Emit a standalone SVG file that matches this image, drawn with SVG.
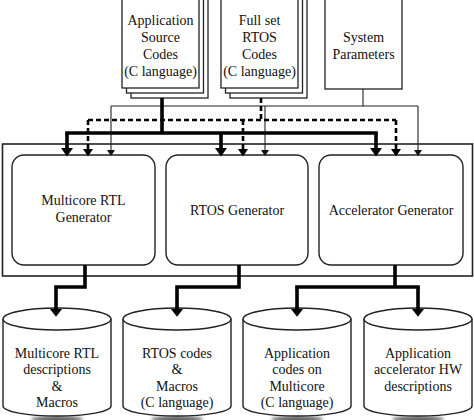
<svg xmlns="http://www.w3.org/2000/svg" width="474" height="420" viewBox="0 0 474 420">
<style>
text{font-family:"Liberation Serif","Times New Roman",serif;font-size:14px;fill:#111;text-anchor:middle}
.doc{fill:#fff;stroke:#222;stroke-width:1.3}
.gen{fill:#fff;stroke:#222;stroke-width:1.4}
.cyl{fill:#fff;stroke:#222;stroke-width:1.4}
.thick{fill:none;stroke:#000;stroke-width:3.6;stroke-linejoin:miter}
.dash{fill:none;stroke:#000;stroke-width:2.6;stroke-dasharray:5,3}
.thin{fill:none;stroke:#222;stroke-width:1.1}
.shadow{fill:#111;opacity:0.7}
</style>
<defs>
<marker id="ahThick" markerUnits="userSpaceOnUse" markerWidth="12" markerHeight="12" refX="0" refY="5" orient="auto" viewBox="0 0 8 10">
<path d="M0,0 L7,5 L0,10 z" fill="#000"/>
</marker>
<marker id="ahOut" markerUnits="userSpaceOnUse" markerWidth="12" markerHeight="12" refX="0" refY="5.5" orient="auto" viewBox="0 0 8 11">
<path d="M0,0 L7,5.5 L0,11 z" fill="#000"/>
</marker>
<marker id="ahDash" markerUnits="userSpaceOnUse" markerWidth="10" markerHeight="10" refX="0" refY="4" orient="auto" viewBox="0 0 7 8">
<path d="M0,0 L6,4 L0,8 z" fill="#000"/>
</marker>
<marker id="ahThin" markerUnits="userSpaceOnUse" markerWidth="8" markerHeight="8" refX="0" refY="3" orient="auto" viewBox="0 0 5 6">
<path d="M0,0 L4.5,3 L0,6 z" fill="#111"/>
</marker>
<filter id="blur" x="-20%" y="-100%" width="140%" height="300%"><feGaussianBlur stdDeviation="1.5"/></filter>
</defs>

<g id="app-source">
<rect class="doc" x="131" y="-2" width="77" height="100"/>
<rect class="doc" x="126.5" y="-2" width="77" height="95"/>
<rect class="doc" x="122" y="-2" width="77" height="90"/>
<text x="160.5" y="25">Application</text>
<text x="160.5" y="42">Source</text>
<text x="160.5" y="59">Codes</text>
<text x="160.5" y="76">(C language)</text>
</g>

<g id="rtos-source">
<rect class="doc" x="230" y="-2" width="77" height="100"/>
<rect class="doc" x="225.5" y="-2" width="77" height="95"/>
<rect class="doc" x="221" y="-2" width="77" height="90"/>
<text x="259.5" y="25">Full set</text>
<text x="259.5" y="42">RTOS</text>
<text x="259.5" y="59">Codes</text>
<text x="259.5" y="76">(C language)</text>
</g>

<g id="system-parameters">
<rect class="doc" x="325" y="-2" width="77" height="91"/>
<text x="363.5" y="42">System</text>
<text x="363.5" y="59">Parameters</text>
</g>

<g id="framework">
<rect x="2.5" y="144" width="470" height="132" fill="none" stroke="#222" stroke-width="1.6"/>
</g>

<g id="multicore-rtl-generator">
<rect class="gen" x="12" y="155" width="143" height="110" rx="12"/>
<text x="83.5" y="205">Multicore RTL</text>
<text x="83.5" y="222">Generator</text>
</g>

<g id="rtos-generator">
<rect class="gen" x="166" y="155" width="142" height="110" rx="12"/>
<text x="237" y="215">RTOS Generator</text>
</g>

<g id="accelerator-generator">
<rect class="gen" x="319" y="155" width="144" height="110" rx="12"/>
<text x="391" y="215">Accelerator Generator</text>
</g>

<g id="db-rtl">
<ellipse class="shadow" cx="57" cy="419" rx="26" ry="2.5" filter="url(#blur)"/>
<path class="cyl" d="M3,319 V406 A54,10 0 0 0 111,406 V319"/>
<ellipse class="cyl" cx="57" cy="319" rx="54" ry="11"/>
<text x="57" y="358">Multicore RTL</text>
<text x="57" y="374">descriptions</text>
<text x="57" y="391">&amp;</text>
<text x="57" y="407">Macros</text>
</g>

<g id="db-rtos">
<ellipse class="shadow" cx="177" cy="419" rx="26" ry="2.5" filter="url(#blur)"/>
<path class="cyl" d="M123,319 V406 A54,10 0 0 0 231,406 V319"/>
<ellipse class="cyl" cx="177" cy="319" rx="54" ry="11"/>
<text x="177" y="358">RTOS codes</text>
<text x="177" y="374">&amp;</text>
<text x="177" y="391">Macros</text>
<text x="177" y="407">(C language)</text>
</g>

<g id="db-app">
<ellipse class="shadow" cx="297" cy="419" rx="26" ry="2.5" filter="url(#blur)"/>
<path class="cyl" d="M243,319 V406 A54,10 0 0 0 351,406 V319"/>
<ellipse class="cyl" cx="297" cy="319" rx="54" ry="11"/>
<text x="297" y="358">Application</text>
<text x="297" y="374">codes on</text>
<text x="297" y="391">Multicore</text>
<text x="297" y="407">(C language)</text>
</g>

<g id="db-accel">
<ellipse class="shadow" cx="418" cy="419" rx="26" ry="2.5" filter="url(#blur)"/>
<path class="cyl" d="M364,319 V406 A54,10 0 0 0 472,406 V319"/>
<ellipse class="cyl" cx="418" cy="319" rx="54" ry="11"/>
<text x="418" y="358">Application</text>
<text x="418" y="374">accelerator HW</text>
<text x="418" y="391">descriptions</text>
</g>

<g id="connectors">
<path class="thin" d="M363,89 V106"/>
<path class="thin" d="M111,106 H418"/>
<path class="thin" d="M111,106 V150" marker-end="url(#ahThin)"/>
<path class="thin" d="M265,106 V150" marker-end="url(#ahThin)"/>
<path class="thin" d="M418,106 V150" marker-end="url(#ahThin)"/>

<path class="dash" d="M261,98 V120"/>
<path class="dash" d="M88,120 H396"/>
<path class="dash" d="M88,120 V149" marker-end="url(#ahDash)"/>
<path class="dash" d="M243,120 V149" marker-end="url(#ahDash)"/>
<path class="dash" d="M396,120 V149" marker-end="url(#ahDash)"/>

<path class="thick" d="M162,98 V133"/>
<path class="thick" d="M65.2,133 H377.8"/>
<path class="thick" d="M67,133 V148" marker-end="url(#ahThick)"/>
<path class="thick" d="M221,133 V148" marker-end="url(#ahThick)"/>
<path class="thick" d="M376,133 V148" marker-end="url(#ahThick)"/>

<path class="thick" d="M85,265 V287 H56 V309" marker-end="url(#ahOut)"/>
<path class="thick" d="M239,265 V287 H177 V309" marker-end="url(#ahOut)"/>
<path class="thick" d="M395,265 V287"/>
<path class="thick" d="M295.2,287 H419.8"/>
<path class="thick" d="M297,287 V309" marker-end="url(#ahOut)"/>
<path class="thick" d="M418,287 V309" marker-end="url(#ahOut)"/>
</g>
</svg>
